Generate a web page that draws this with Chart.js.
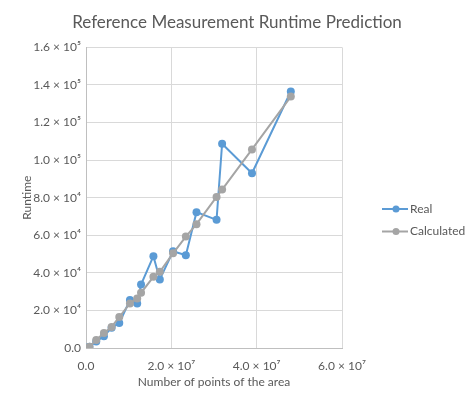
<!DOCTYPE html>
<html>
<head>
<meta charset="utf-8">
<script src="https://cdn.jsdelivr.net/npm/chart.js@4.4.1/dist/chart.umd.min.js"></script>
<style>
  html, body { margin: 0; padding: 0; background: #fff; }
  #wrap { width: 474px; height: 407px; }
</style>
</head>
<body>
<div id="wrap"><canvas id="chart"></canvas></div>
<script>
// number of points of the area (x), shared by both series
const areaPoints = [0.1e6, 0.8e6, 2.4e6, 4.2e6, 6.0e6, 7.8e6, 10.3e6, 12.0e6, 12.9e6, 15.8e6,
  17.3e6, 20.4e6, 23.4e6, 25.9e6, 30.6e6, 31.9e6, 38.9e6, 48.0e6];
const realRuntime = [100, 700, 3500, 6200, 10800, 13300, 25500, 23700, 33800, 48900,
  36500, 51500, 49400, 72300, 68200, 108700, 93000, 136500];
const calcRuntime = [50, 600, 4300, 8000, 11200, 16500, 23700, 26400, 29400, 37900,
  40600, 50400, 59300, 65900, 80400, 84300, 105700, 133800];

const xTicks = [0, 2e7, 4e7, 6e7];
const yTicks = [0, 2e4, 4e4, 6e4, 8e4, 1e5, 1.2e5, 1.4e5, 1.6e5];

const FONT = "Lato, 'Open Sans', sans-serif";
const TEXT = '#595959';
const GRID = '#d9d9d9';
const SUP = { '0': '⁰', '1': '¹', '2': '²', '3': '³', '4': '⁴', '5': '⁵', '6': '⁶', '7': '⁷', '8': '⁸', '9': '⁹', '-': '⁻' };

function sci(value) {
  if (value === 0) return '0.0';
  const exp = Math.floor(Math.log10(Math.abs(value)) + 1e-9);
  const mant = value / Math.pow(10, exp);
  const sup = String(exp).split('').map((c) => SUP[c]).join('');
  return `${mant.toFixed(1)} × 10${sup}`;
}

function toXY(values) {
  return areaPoints.map((x, i) => ({ x, y: values[i] }));
}

// legend on the right, line + marker like the original
const sideLegend = {
  id: 'sideLegend',
  afterDraw(chart) {
    const { ctx } = chart;
    ctx.save();
    chart.data.datasets.forEach((ds, i) => {
      const y = 209 + i * 22.5;
      ctx.strokeStyle = ds.borderColor;
      ctx.lineWidth = 2;
      ctx.beginPath();
      ctx.moveTo(382, y);
      ctx.lineTo(408, y);
      ctx.stroke();
      ctx.fillStyle = ds.backgroundColor;
      ctx.beginPath();
      ctx.arc(396, y, 3.5, 0, Math.PI * 2);
      ctx.fill();
      ctx.fillStyle = TEXT;
      ctx.font = `12px ${FONT}`;
      ctx.textAlign = 'left';
      ctx.textBaseline = 'middle';
      ctx.fillText(ds.label, 410, y);
    });
    ctx.restore();
  },
};

new Chart(document.getElementById('chart'), {
  type: 'line',
  data: {
    datasets: [
      {
        label: 'Real',
        data: toXY(realRuntime),
        borderColor: '#5B9BD5',
        backgroundColor: '#5B9BD5',
        borderWidth: 2,
        pointRadius: 4,
        pointBorderWidth: 0,
        order: 1,
      },
      {
        label: 'Calculated',
        data: toXY(calcRuntime),
        borderColor: '#A5A5A5',
        backgroundColor: '#A5A5A5',
        borderWidth: 2,
        pointRadius: 4,
        pointBorderWidth: 0,
        order: 0,
      },
    ],
  },
  options: {
    responsive: true,
    maintainAspectRatio: false,
    animation: false,
    layout: { padding: { left: 0, right: 0, top: 0, bottom: 9 } },
    plugins: {
      legend: { display: false },
      tooltip: { enabled: false },
      title: {
        display: true,
        text: 'Reference Measurement Runtime Prediction',
        color: TEXT,
        font: { family: FONT, size: 17, weight: 'normal' },
        padding: { top: 12, bottom: 15 },
      },
    },
    scales: {
      x: {
        type: 'linear',
        min: 0,
        max: 6e7,
        afterBuildTicks: (scale) => { scale.ticks = xTicks.map((value) => ({ value })); },
        afterFit: (scale) => { scale.height = 50; },
        ticks: { callback: sci, color: TEXT, font: { family: FONT, size: 12 }, padding: 11, maxRotation: 0 },
        grid: { color: GRID, drawTicks: false },
        border: { color: '#bfbfbf' },
        title: {
          display: true,
          text: 'Number of points of the area',
          color: TEXT,
          font: { family: FONT, size: 12 },
          padding: { bottom: 9 },
        },
      },
      y: {
        type: 'linear',
        min: 0,
        max: 1.6e5,
        afterBuildTicks: (scale) => { scale.ticks = yTicks.map((value) => ({ value })); },
        afterFit: (scale) => { scale.width = 86; },
        ticks: { callback: sci, color: TEXT, font: { family: FONT, size: 12 }, padding: 5 },
        grid: { color: GRID, drawTicks: false },
        border: { color: '#bfbfbf' },
        title: {
          display: true,
          text: 'Runtime',
          color: TEXT,
          font: { family: FONT, size: 12 },
          padding: { top: 20 },
        },
      },
      // empty right-hand axis that reserves room for the legend
      legendSpace: {
        type: 'linear',
        position: 'right',
        display: true,
        ticks: { display: false },
        grid: { display: false, drawTicks: false },
        border: { display: false },
        afterFit: (scale) => { scale.width = 132; },
      },
    },
  },
  plugins: [sideLegend],
});
</script>
</body>
</html>
